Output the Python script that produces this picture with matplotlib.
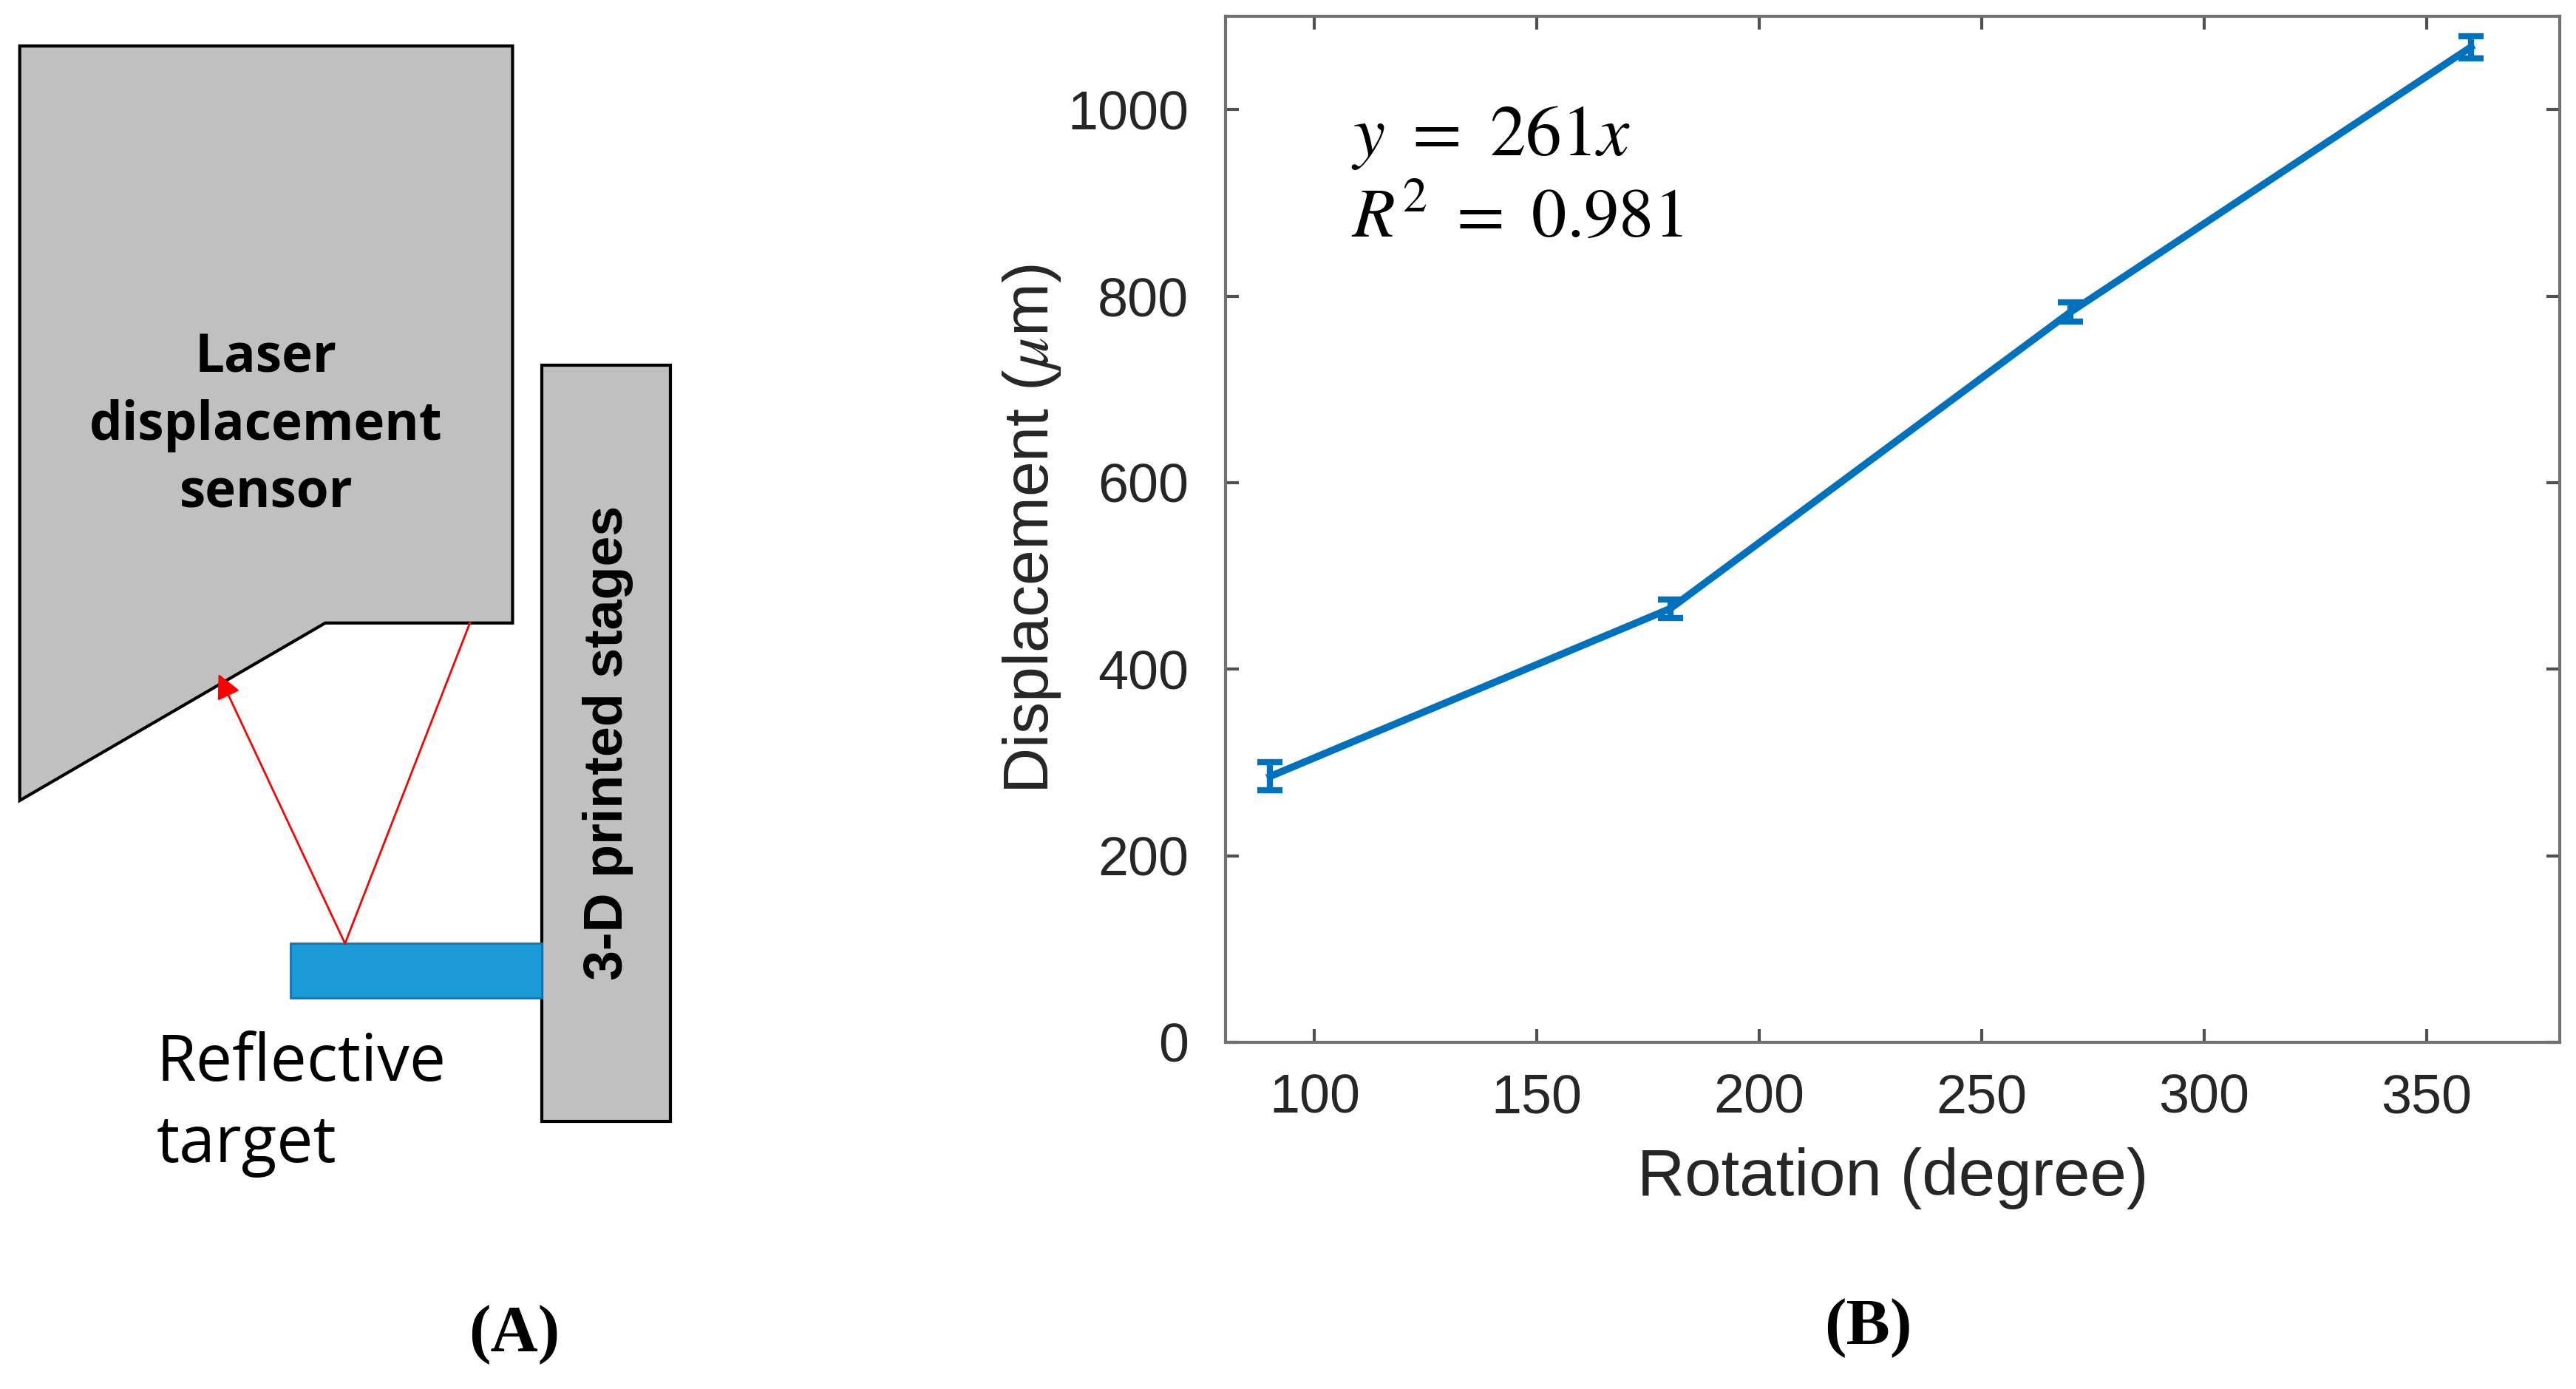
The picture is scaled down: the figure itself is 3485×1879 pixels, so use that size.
import matplotlib
matplotlib.use('Agg')
import matplotlib.pyplot as plt
from matplotlib.patches import Polygon, Rectangle

# measured data (panel B)
rotation = [90, 180, 270, 360]
displacement = [285, 465, 783, 1067]
disp_err = [15, 10, 10, 12]
x_ticks = [100, 150, 200, 250, 300, 350]
y_ticks = [0, 200, 400, 600, 800, 1000]

# schematic geometry (panel A), in reference-image units
sensor_outline = [(12, 28), (312, 28), (312, 379), (198, 379), (12, 487)]
stage_box = (330, 222, 78, 460)      # x, y, w, h
target_box = (177, 574, 153, 33)
beam_in = [(286, 379), (210, 574)]
beam_out = [(210, 574), (133, 410)]

plt.rcParams['mathtext.fontset'] = 'stix'
sans = ['Liberation Sans', 'DejaVu Sans']
wide = ['Open Sans', 'DejaVu Sans']

fig = plt.figure(figsize=(34.85, 18.79), dpi=100)

# ---- panel A: schematic ----
ax0 = fig.add_axes([0, 0, 1, 1])
ax0.set_xlim(0, 1568)
ax0.set_ylim(845, 0)
ax0.axis('off')

ax0.add_patch(Polygon(sensor_outline, closed=True, facecolor='#c0c0c0',
                      edgecolor='black', linewidth=3))
ax0.add_patch(Rectangle(stage_box[:2], stage_box[2], stage_box[3],
                        facecolor='#c0c0c0', edgecolor='black', linewidth=3))
ax0.add_patch(Rectangle(target_box[:2], target_box[2], target_box[3],
                        facecolor='#1a9bd7', edgecolor='#1273b5', linewidth=2))

ax0.plot([p[0] for p in beam_in], [p[1] for p in beam_in], color='red', lw=2)
ax0.annotate('', xy=beam_out[1], xytext=beam_out[0],
             arrowprops=dict(arrowstyle='-|>', color='red', lw=2,
                             mutation_scale=50, shrinkA=0, shrinkB=0))

ax0.text(162, 259, 'Laser\ndisplacement\nsensor', ha='center', va='center',
         fontsize=51, fontweight='bold', family=wide, linespacing=1.36)
ax0.text(370, 452, '3-D printed stages', ha='center', va='center', rotation=90,
         fontsize=53, fontweight='bold', family=sans)
ax0.text(95, 672, 'Reflective\ntarget', ha='left', va='center',
         fontsize=63, family=wide, linespacing=1.33)
ax0.text(313, 812, '(A)', ha='center', va='center', fontsize=64,
         fontweight='bold', family='Liberation Serif')
ax0.text(1137, 808, '(B)', ha='center', va='center', fontsize=64,
         fontweight='bold', family='Liberation Serif')

# ---- panel B: chart ----
ax = fig.add_axes([0.4758, 0.2497, 0.5179, 0.7385])
ax.errorbar(rotation, displacement, yerr=disp_err, color='#0072bd', lw=7,
            elinewidth=6, capsize=12, capthick=6)
ax.set_xlim(80, 380)
ax.set_ylim(0, 1100)
ax.set_xticks(x_ticks)
ax.set_yticks(y_ticks)

for s in ax.spines.values():
    s.set_color('#707070')
    s.set_linewidth(3)
ax.tick_params(direction='in', length=13, width=3, color='#505050',
               top=True, right=True, labelsize=53, labelcolor='#262626')
ax.tick_params(axis='y', pad=36)
ax.tick_params(axis='x', pad=30)
for lab in ax.get_xticklabels() + ax.get_yticklabels():
    lab.set_family(sans)

ax.set_xlabel('Rotation (degree)', fontsize=64, color='#262626',
              family=sans, va='center')
ax.set_ylabel(r'Displacement ($\mu$m)', fontsize=62, color='#262626',
              family=sans, va='center')
ax.xaxis.set_label_coords(0.5, -0.133)
ax.yaxis.set_label_coords(-0.145, 0.5)

ax.text(108.2, 1000 + (67 - 94.5) / 0.567, r'$y\ =\ 261x$', fontsize=70,
        va='baseline', ha='left')
ax.text(108.2, 1000 + (67 - 144) / 0.567, r'$R^2\ =\ 0.981$', fontsize=68,
        va='baseline', ha='left')

fig.savefig('out.png', dpi=100)
